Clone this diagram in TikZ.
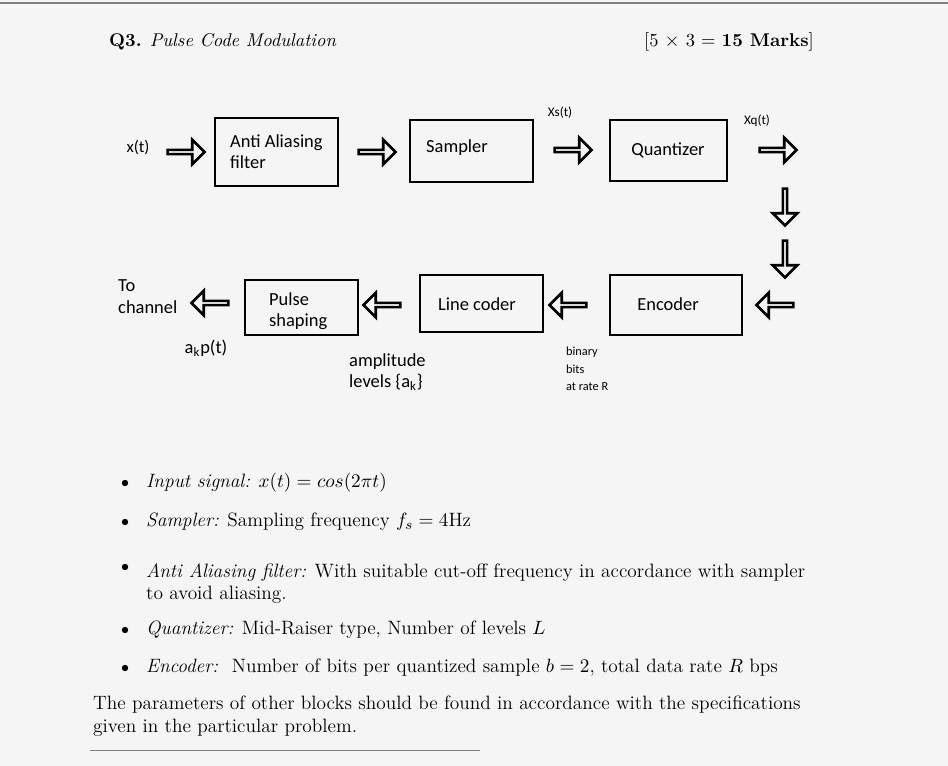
\documentclass[tikz,border=0pt]{standalone}
\usepackage{fontspec}
\newfontfamily\carl{Carlito}
\usetikzlibrary{shapes.arrows}
\begin{document}
\begin{tikzpicture}[x=0.02cm,y=-0.02cm,
 harrow/.style={single arrow,draw,line width=1.5pt,minimum height=21pt,minimum width=14pt,single arrow head extend=3.5pt,inner sep=0pt},
 sf/.style={font=\carl\fontsize{10.5}{12.5}\selectfont},
 body/.style={anchor=west,font=\fontsize{11}{13}\selectfont,align=left}]
\useasboundingbox (0,0) rectangle (948,766);
\fill[gray!8] (0,0) rectangle (948,766);
\draw[gray,thick] (0,3) -- (948,3);
\node[anchor=west,font=\fontsize{10.5}{12}\selectfont] (q) at (103,42) {\textbf{Q3.} \textit{Pulse Code Modulation}};
\node[anchor=west,font=\fontsize{10.5}{12}\selectfont] (mk) at (638,42) {[5 $\times$ 3 = \textbf{15 Marks}]};
% boxes
\draw[line width=1.5pt] (215,118) rectangle (338,186);
\node[sf,anchor=north west,align=left] (aat) at (224,128) {Anti Aliasing\\filter};
\draw[line width=1.5pt] (410,120) rectangle (533,182);
\node[sf] (samp) at (457,148) {Sampler};
\draw[line width=1.5pt] (610,120) rectangle (727,181);
\node[sf] (quant) at (668,150) {Quantizer};
\draw[line width=1.5pt] (610,275) rectangle (742,335);
\node[sf] (enc) at (668,304) {Encoder};
\draw[line width=1.5pt] (420,275) rectangle (543,332);
\node[sf] (lc) at (477,304) {Line coder};
\draw[line width=1.5pt] (245,280) rectangle (358,335);
\node[sf,anchor=north west,align=left] (ps) at (263,286) {Pulse\\shaping};
% arrows
\node[harrow] (a1) at (185,152) {};
\node[harrow] (a2) at (376,152) {};
\node[harrow] (a3) at (572,150) {};
\node[harrow] (a4) at (777,150) {};
\node[harrow,rotate=-90] (a5) at (785,206) {};
\node[harrow,rotate=-90] (a6) at (785,258) {};
\node[harrow,rotate=180] (a7) at (776,305) {};
\node[harrow,rotate=180] (a8) at (569,305) {};
\node[harrow,rotate=180] (a9) at (383,305) {};
\node[harrow,rotate=180] (a10) at (211,303) {};
% labels
\node[font=\carl\fontsize{9.5}{11}\selectfont] (xt) at (138,148) {x(t)};
\node[font=\carl\fontsize{7.5}{9}\selectfont] (xs) at (560,113) {Xs(t)};
\node[font=\carl\fontsize{7.5}{9}\selectfont] (xq) at (757,121) {Xq(t)};
\node[sf,align=left,anchor=west] (tc) at (112,297) {To\\channel};
\node[sf] (akp) at (206,348) {a\textsubscript{k}p(t)};
\node[sf,align=left,anchor=north west] (amp) at (343,347) {amplitude\\levels \{a\textsubscript{k}\}};
\node[align=left,anchor=north west,font=\carl\fontsize{7}{10}\selectfont] (bb) at (560,341) {binary\\bits\\at rate R};
% bullets
\foreach \y in {483,522,567,630,668} \fill (125,\y) circle (3.2);
\node[body] (b1) at (140,483) {\textit{Input signal:} $x(t)=cos(2\pi t)$};
\node[body] (b2) at (140,522) {\textit{Sampler:} Sampling frequency $f_s=4$Hz};
\node[body,anchor=north west] (b3) at (140,557) {\textit{Anti Aliasing filter:} With suitable cut-off frequency in accordance with sampler\\to avoid aliasing.};
\node[body] (b4) at (140,630) {\textit{Quantizer:} Mid-Raiser type, Number of levels $L$};
\node[body] (b5) at (140,668) {\textit{Encoder:}\; Number of bits per quantized sample $b=2$, total data rate $R$ bps};
\node[body,anchor=north west] (p) at (87,690) {The parameters of other blocks should be found in accordance with the specifications\\given in the particular problem.};
\draw[gray] (90,750) -- (480,750);
\end{tikzpicture}
\end{document}
